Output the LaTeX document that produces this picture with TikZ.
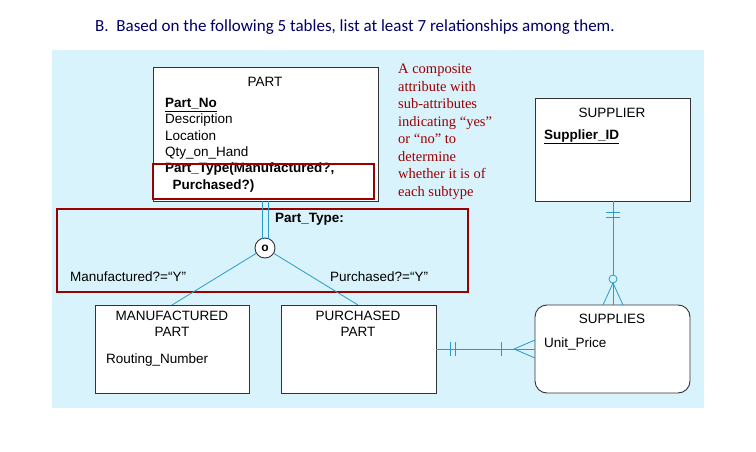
\documentclass[tikz,border=0pt]{standalone}
\usepackage{fontspec}
\setmainfont{Liberation Sans}
\newfontfamily\titlefont{Carlito}
\newfontfamily\serifx{Liberation Serif}
\begin{document}
\begin{tikzpicture}[x=1pt,y=-1pt,
  ent/.style={draw=black!80,fill=white,line width=0.9pt},
  conn/.style={draw=cyan!60!teal,line width=0.8pt},
  redbox/.style={draw=red!60!black,line width=1.2pt},
  lbl/.style={inner sep=0,anchor=west,font=\fontsize{13.5}{16.3}\selectfont}]
\useasboundingbox (0,0) rectangle (756,452);
\fill[white] (0,0) rectangle (756,452);
\node[anchor=west,inner sep=0,font=\titlefont\fontsize{17}{19}\selectfont,text=blue!40!black] (title) at (95,27) {B.\ \ Based on the following 5 tables, list at least 7 relationships among them.};
\fill[cyan!15] (52,50) rectangle (704,408);
% entities
\draw[ent] (153,67) rectangle (378,201);
\node[lbl,anchor=center] (part) at (265,82) {PART};
\node[lbl,font=\fontsize{13.5}{16.3}\selectfont\bfseries] (pno) at (165,105) {\underline{Part\_No}};
\node[lbl,anchor=north west,align=left] (attrs) at (165,114) {Description\\Location\\Qty\_on\_Hand};
\node[lbl,anchor=north west,align=left,font=\fontsize{13.5}{16.3}\selectfont\bfseries] (ptype) at (165,163) {Part\_Type(Manufactured?,\\\ \ Purchased?)};
\draw[redbox] (153,164) rectangle (374,199);
\node[anchor=north west,align=left,inner sep=0,text=red!60!black,font=\serifx\fontsize{14.5}{17.5}\selectfont] (note) at (398,64) {A composite\\attribute with\\sub-attributes\\indicating “yes”\\or “no” to\\determine\\whether it is of\\each subtype};
\draw[redbox] (57,209) rectangle (468,292);
\node[ent,circle,minimum size=20pt,inner sep=0,font=\bfseries\fontsize{12}{12}\selectfont] (d) at (265,248) {o};
\draw[conn] (262,201) -- (262,238.5) (268,201) -- (268,238.5);
\node[lbl,font=\fontsize{13.5}{16.3}\selectfont\bfseries] (pt) at (275,219) {Part\_Type:};
\node[lbl] (m) at (70,277) {Manufactured?=“Y”};
\node[lbl] (p) at (330,277) {Purchased?=“Y”};
\coordinate (mt) at (172,305); \coordinate (ptop) at (358,305);
\draw[conn] (d) -- (mt); \draw[conn] (d) -- (ptop);
\draw[ent] (95,305) rectangle (249,393);
\node[lbl,anchor=north,align=center] (mn) at (172,311) {MANUFACTURED\\PART};
\node[lbl] (rn) at (106,360) {Routing\_Number};
\draw[ent] (281,305) rectangle (436,393);
\node[lbl,anchor=north,align=center] (pn) at (358,311) {PURCHASED\\PART};
\draw[ent] (535,98) rectangle (690,201);
\node[lbl,anchor=center] (sup) at (612,113) {SUPPLIER};
\node[lbl,font=\fontsize{13.5}{16.3}\selectfont\bfseries] (sid) at (544,137) {\underline{Supplier\_ID}};
\draw[ent,rounded corners=12pt] (535,305) rectangle (690,393);
\node[lbl,anchor=center] (ss) at (612,319) {SUPPLIES};
\node[lbl] (up) at (544,344) {Unit\_Price};
% relationships
\draw[conn] (613,201) -- (613,305);
\draw[conn] (606,212) -- (620,212) (606,217) -- (620,217);
\draw[conn,fill=cyan!15] (613,279) circle (4);
\draw[conn] (613,283) -- (603,305) (613,283) -- (623,305);
\draw[conn] (436,349) -- (535,349);
\draw[conn] (450,342) -- (450,356) (455,342) -- (455,356) (501,342) -- (501,356);
\draw[conn] (514,349) -- (535,340) (514,349) -- (535,358);
\end{tikzpicture}
\end{document}
